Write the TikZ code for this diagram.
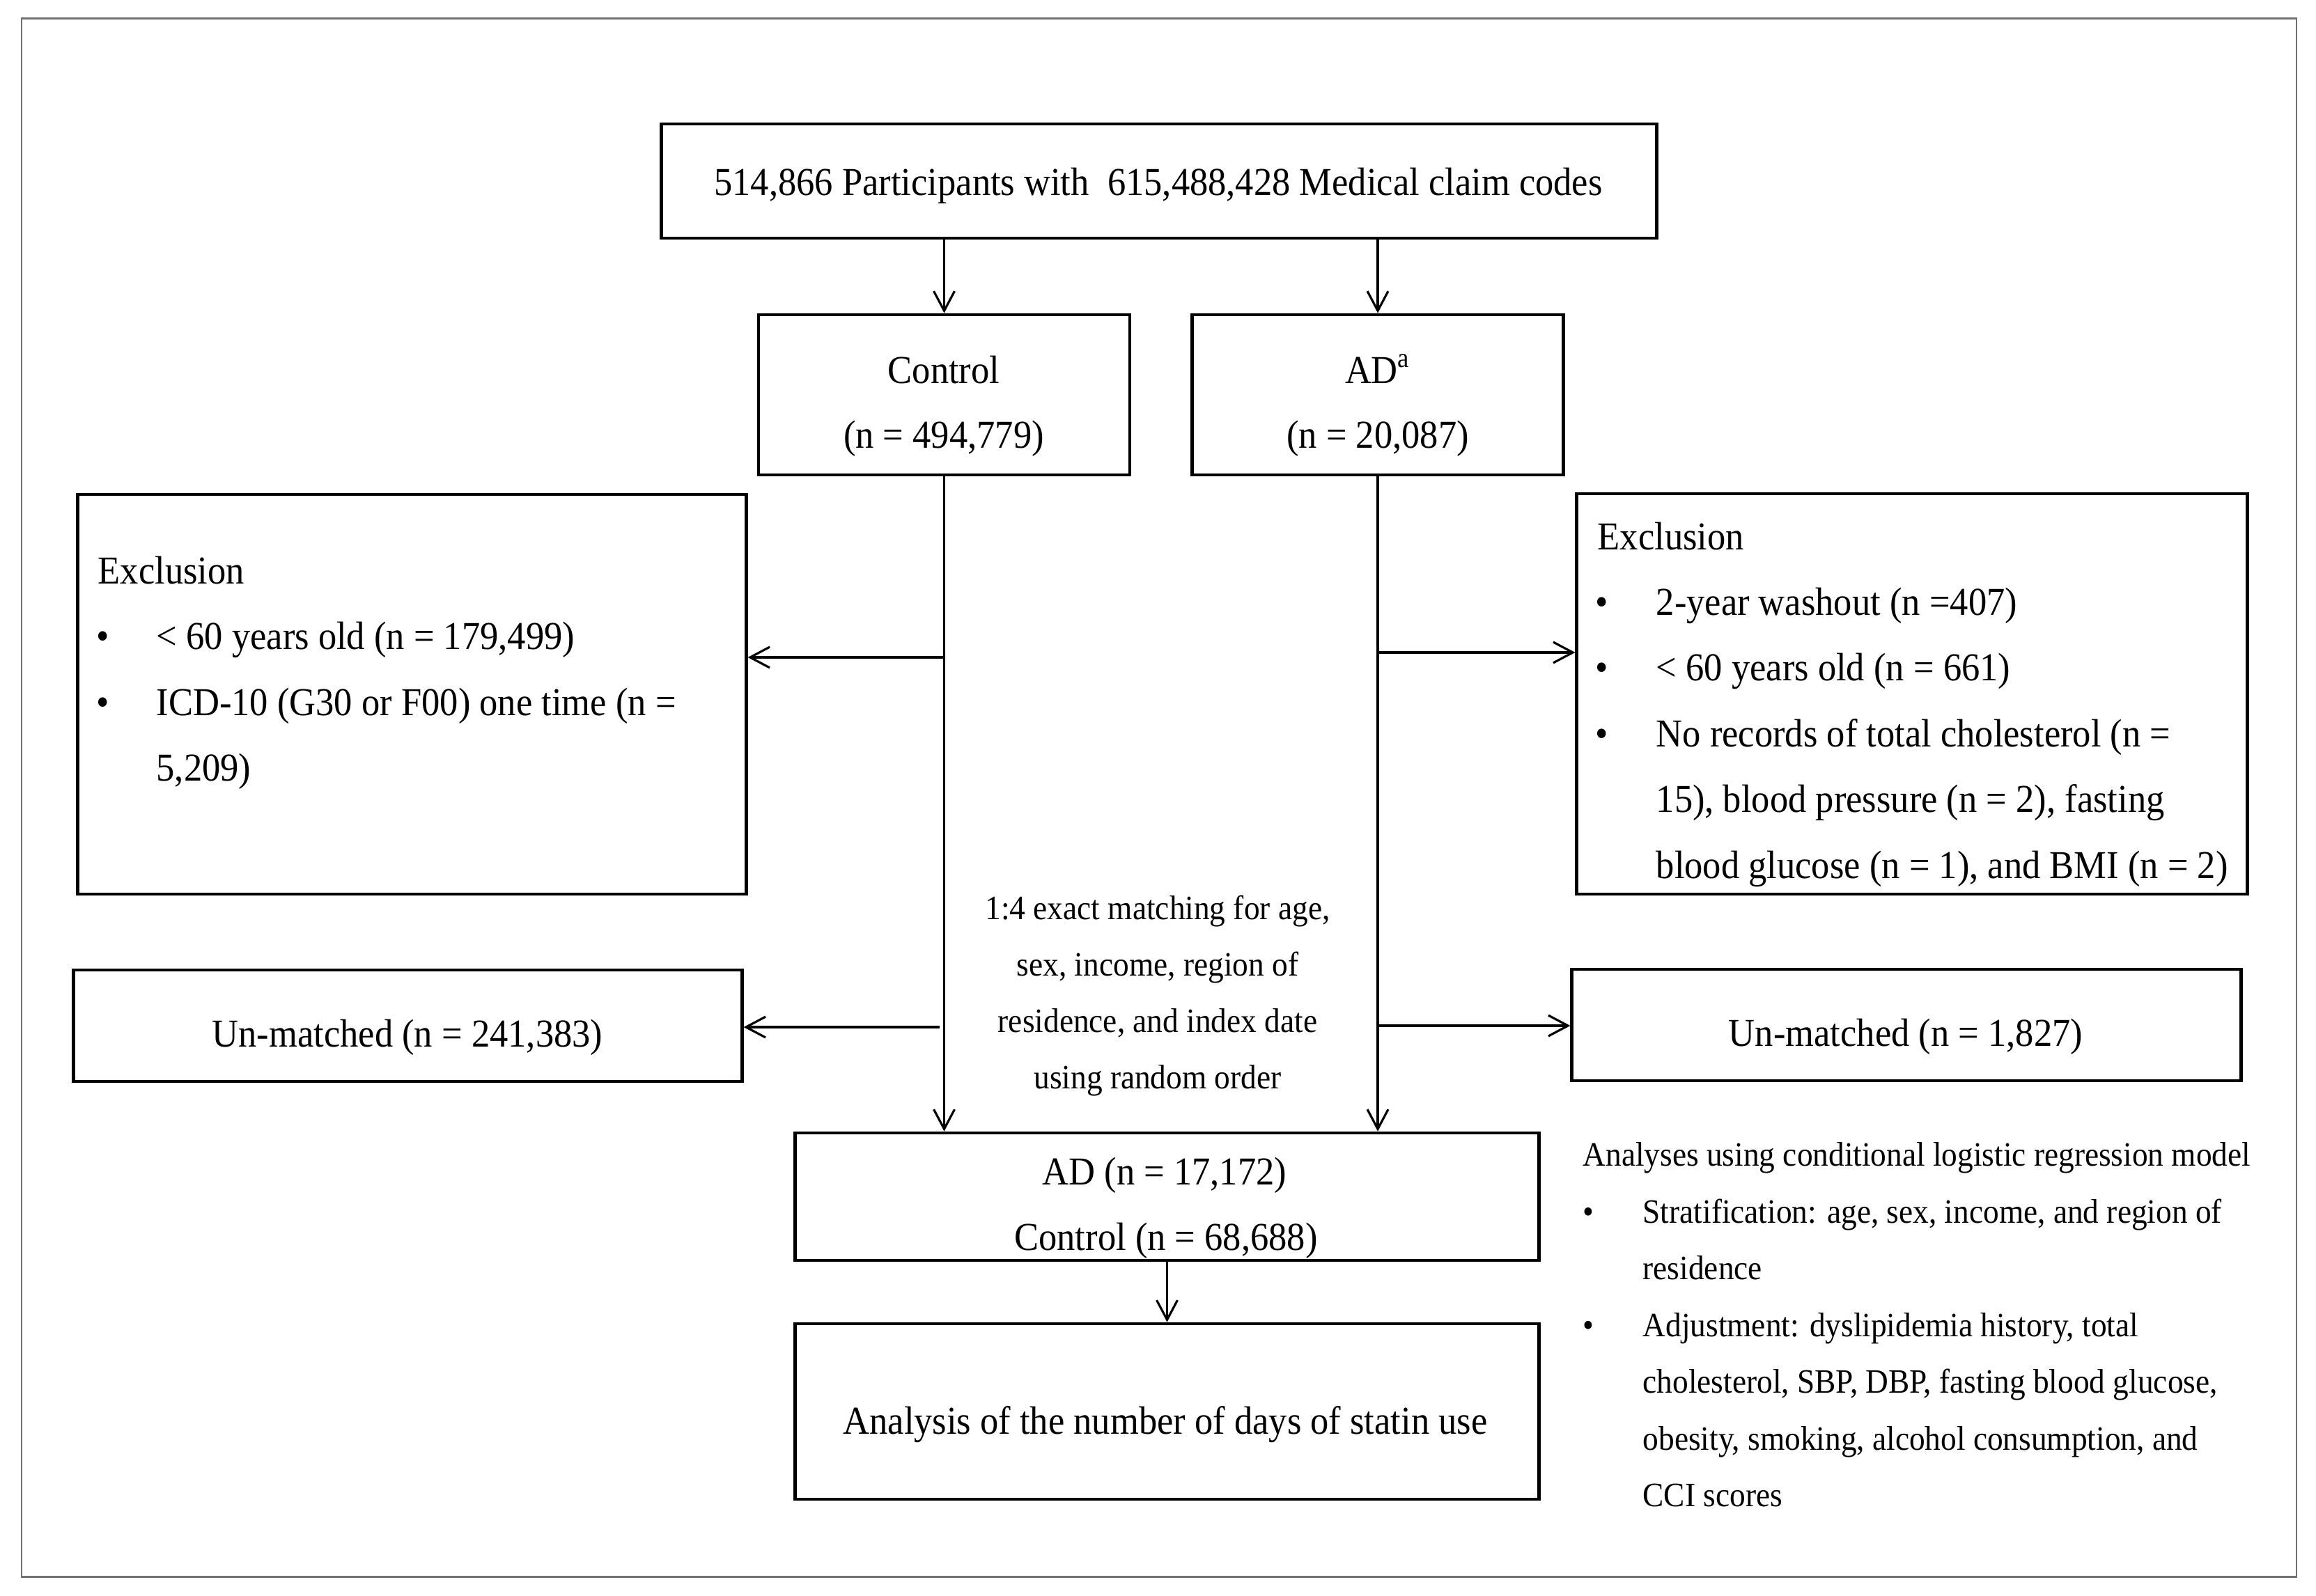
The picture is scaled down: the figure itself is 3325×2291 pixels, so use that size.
\documentclass[tikz,border=0pt]{standalone}
\usepackage{fontspec}
\setmainfont{Liberation Serif}[FakeStretch=0.925]
\usetikzlibrary{arrows.meta}
\definecolor{framegray}{RGB}{112,112,112}
\begin{document}
\begin{tikzpicture}[x=0.01cm,y=-0.01cm,
  box/.style={draw=black, line width=1.3pt, rectangle, inner sep=0pt},
  frm/.style={draw=framegray, line width=0.8pt, rectangle, inner sep=0pt},
  big/.style={font=\fontsize{16.15}{19}\selectfont, inner sep=0pt},
  small/.style={font=\fontsize{13.94}{16}\selectfont, inner sep=0pt},
  arr/.style={-{Straight Barb[length=8pt,width=8.5pt,line width=0.9pt]}, line width=0.9pt},
]
\useasboundingbox (0,0) rectangle (3325,2291);
\node[frm, minimum width=32.64cm, minimum height=22.37cm] (frame) at (1664,1145.5) {};

% top box
\node[box, minimum width=14.28cm, minimum height=1.64cm] (top) at (1664,260) {};
\node[big, anchor=base] (toptxt) at (1663,280) {514,866 Participants with~~615,488,428 Medical claim codes};

% control / AD
\node[box, minimum width=5.33cm, minimum height=2.30cm] (ctrl) at (1355.5,567) {};
\node[big, anchor=base] (ctrlt1) at (1355,550) {Control};
\node[big, anchor=base] (ctrlt2) at (1355,643) {(n = 494,779)};
\node[box, minimum width=5.33cm, minimum height=2.30cm] (ad) at (1978,567) {};
\node[big, anchor=base] (adt1) at (1978,550) {AD\textsuperscript{a}};
\node[big, anchor=base] (adt2) at (1978,643) {(n = 20,087)};

% left exclusion
\node[box, minimum width=9.59cm, minimum height=5.74cm] (exl) at (591.5,997) {};
\node[big, anchor=base west] (exlh) at (140,838) {Exclusion};
\node[big, anchor=base] (exlb1) at (148,932.5) {\textbullet};
\node[big, anchor=base west] (exl1) at (224,932.5) {< 60 years old (n = 179,499)};
\node[big, anchor=base] (exlb2) at (148,1027) {\textbullet};
\node[big, anchor=base west] (exl2) at (224,1027) {ICD-10 (G30 or F00) one time (n =};
\node[big, anchor=base west] (exl3) at (224,1121.5) {5,209)};

% right exclusion
\node[box, minimum width=9.62cm, minimum height=5.75cm] (rxl) at (2745,996.5) {};
\node[big, anchor=base west] (rxlh) at (2293,789) {Exclusion};
\node[big, anchor=base] (rxlb1) at (2300,883) {\textbullet};
\node[big, anchor=base west] (rxl1) at (2377,883) {2-year washout (n =407)};
\node[big, anchor=base] (rxlb2) at (2300,977) {\textbullet};
\node[big, anchor=base west] (rxl2) at (2377,977) {< 60 years old (n = 661)};
\node[big, anchor=base] (rxlb3) at (2300,1072) {\textbullet};
\node[big, anchor=base west] (rxl3) at (2377,1072) {No records of total cholesterol (n =};
\node[big, anchor=base west] (rxl4) at (2377,1166) {15), blood pressure (n = 2), fasting};
\node[big, anchor=base west] (rxl5) at (2377,1261) {blood glucose (n = 1), and BMI (n = 2)};

% un-matched
\node[box, minimum width=9.59cm, minimum height=1.60cm] (uml) at (585.5,1473) {};
\node[big, anchor=base] (umlt) at (585,1503) {Un-matched (n = 241,383)};
\node[box, minimum width=9.60cm, minimum height=1.60cm] (umr) at (2737,1472) {};
\node[big, anchor=base] (umrt) at (2736,1502) {Un-matched (n = 1,827)};

% matching text
\node[small, anchor=base] (m1) at (1662,1320) {1:4 exact matching for age,};
\node[small, anchor=base] (m2) at (1662,1401) {sex, income, region of};
\node[small, anchor=base] (m3) at (1662,1482) {residence, and index date};
\node[small, anchor=base] (m4) at (1662,1563) {using random order};

% matched box
\node[box, minimum width=10.67cm, minimum height=1.83cm] (mid) at (1675.5,1718.5) {};
\node[big, anchor=base] (midt1) at (1672,1701) {AD (n = 17,172)};
\node[big, anchor=base] (midt2) at (1674,1795) {Control (n = 68,688)};

% final box
\node[box, minimum width=10.67cm, minimum height=2.52cm] (fin) at (1675.5,2027) {};
\node[big, anchor=base] (fint) at (1673,2059) {Analysis of the number of days of statin use};

% analyses text
\node[small, anchor=base west] (an0) at (2272,1674) {Analyses using conditional logistic regression model};
\node[small, anchor=base] (anb1) at (2280,1756) {\textbullet};
\node[small, anchor=base west] (an1) at (2358,1756) {Stratification: age, sex, income, and region of};
\node[small, anchor=base west] (an2) at (2358,1837) {residence};
\node[small, anchor=base] (anb2) at (2280,1919) {\textbullet};
\node[small, anchor=base west] (an3) at (2358,1919) {Adjustment: dyslipidemia history, total};
\node[small, anchor=base west] (an4) at (2358,2000) {cholesterol, SBP, DBP, fasting blood glucose,};
\node[small, anchor=base west] (an5) at (2358,2082) {obesity, smoking, alcohol consumption, and};
\node[small, anchor=base west] (an6) at (2358,2163) {CCI scores};

% connectors
\draw[arr] (top.south -| ctrl) -- (ctrl.north);
\draw[arr] (top.south -| ad) -- (ad.north);
\draw[arr] (ctrl.south) -- (ctrl.south |- mid.north);
\draw[arr] (ad.south) -- (ad.south |- mid.north);
\coordinate (jl1) at (1355.5,944);
\coordinate (jr1) at (1978,937);
\coordinate (jl2) at (1349,1475);
\coordinate (jr2) at (1978,1473);
\draw[arr] (jl1) -- (exl.east |- jl1);
\draw[arr] (jr1) -- (rxl.west |- jr1);
\draw[arr] (jl2) -- (uml.east |- jl2);
\draw[arr] (jr2) -- (umr.west |- jr2);
\draw[arr] (mid.south) -- (fin.north);
\end{tikzpicture}
\end{document}
